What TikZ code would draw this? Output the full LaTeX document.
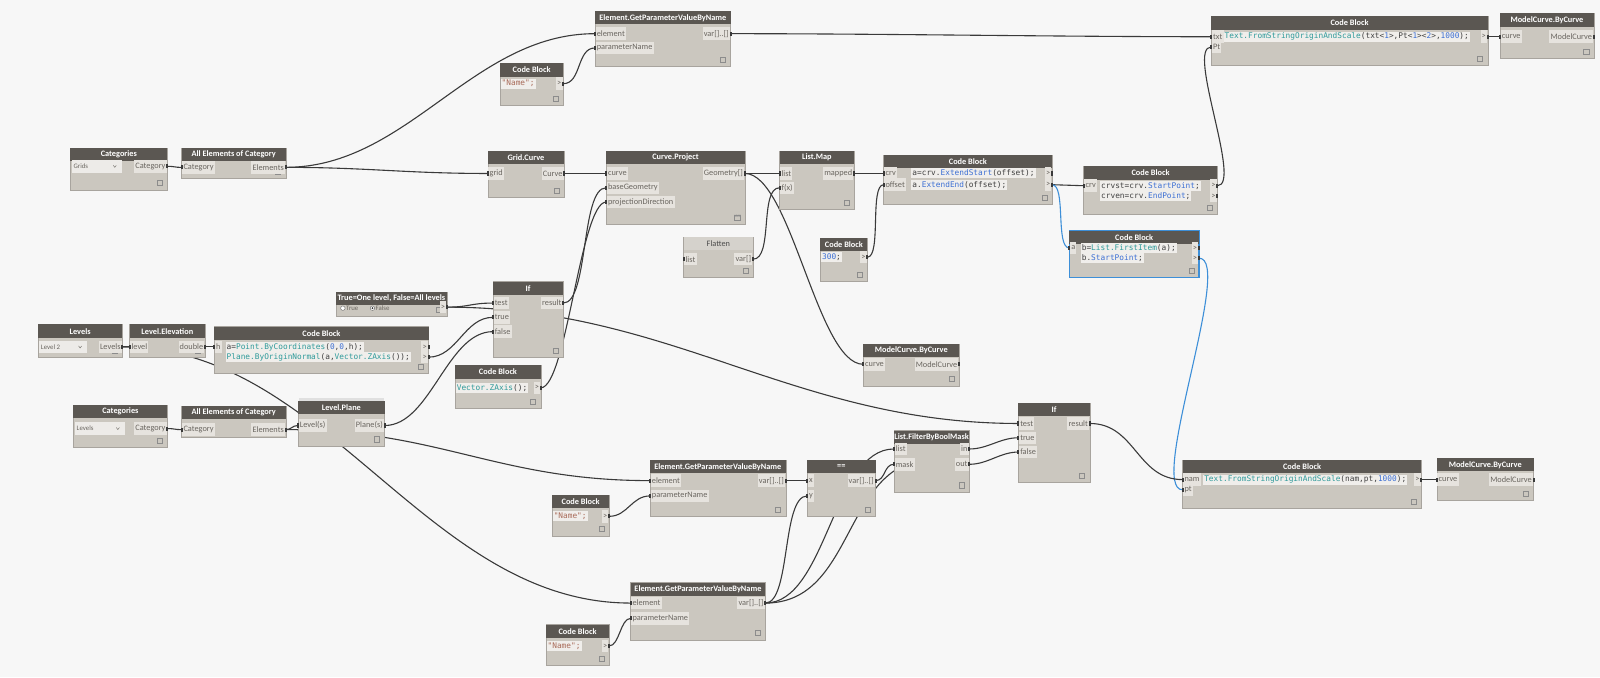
\documentclass[tikz,border=0pt]{standalone}
\usepackage{fontspec}
\setmainfont{Carlito}
\newfontfamily\codefont{DejaVu Sans Mono}
\usetikzlibrary{calc}
\definecolor{bgc}{HTML}{F7F7F7}
\definecolor{bodyc}{HTML}{CBC7BF}
\definecolor{headc}{HTML}{5B5752}
\definecolor{labc}{HTML}{E6E3DE}
\definecolor{bordc}{HTML}{A8A49E}
\definecolor{wirec}{HTML}{3A3A3A}
\definecolor{bluec}{HTML}{3D8FD8}
\definecolor{ctl}{HTML}{2E9A9A}
\definecolor{cbl}{HTML}{3C6FD4}
\definecolor{cstr}{HTML}{A86A58}
\definecolor{txtc}{HTML}{6A6660}
\newcommand\cT[1]{\textcolor{ctl}{#1}}
\newcommand\cB[1]{\textcolor{cbl}{#1}}
\newcommand\cS[1]{\textcolor{cstr}{#1}}
\pgfdeclarelayer{bottom}
\pgfdeclarelayer{background}
\pgfsetlayers{bottom,background,main}
\tikzset{
 ttl/.style={text=white,font=\fontsize{8.3}{9}\selectfont\bfseries,inner sep=0pt},
 plab/.style={fill=labc,text=txtc,font=\fontsize{8.3}{9}\selectfont,inner sep=1.2pt,minimum height=12.5pt},
 code/.style={fill=labc!60!white,text=black!75,font=\codefont\fontsize{7.8}{9}\selectfont,inner sep=1pt,minimum height=10pt},
 wirest/.style={draw=wirec,line width=1.1pt},
 bwirest/.style={draw=bluec,line width=1.1pt},
}
\newcommand\dnode[7][]{%
 \fill[bodyc,draw=bordc,#1] (#3,#4) rectangle (#5,#6);
 \fill[headc] (#3,#4) rectangle (#5,#4+13);
 \node[ttl] (#2) at ({(#3+#5)/2},#4+6.5) {#7};
 \draw[black!45,line width=0.5pt] (#5-10,#6-9) rectangle (#5-5,#6-4);}
\newcommand\pin[4]{\coordinate (#1) at (#2,#3);
 \node[plab,anchor=west] (#1l) at (#2+0.5,#3) {#4};
 \fill[wirec] (#2-1,#3-2) rectangle (#2+1,#3+2);}
\newcommand\pout[4]{\coordinate (#1) at (#2,#3);
 \node[plab,anchor=east] (#1l) at (#2-0.5,#3) {#4};
 \fill[wirec] (#2-1,#3-2) rectangle (#2+1,#3+2);}
\newcommand\wire[3][35]{\begin{pgfonlayer}{background}\draw[wirest] (#2) .. controls ($(#2)+(#1,0)$) and ($(#3)+(-#1,0)$) .. (#3);\end{pgfonlayer}}
\newcommand\bwire[3][35]{\begin{pgfonlayer}{background}\draw[bwirest] (#2) .. controls ($(#2)+(#1,0)$) and ($(#3)+(-#1,0)$) .. (#3);\end{pgfonlayer}}
\newcommand\drop[4]{\node[plab,anchor=west,minimum width=#3pt,fill=labc!70!white] (#4) at (#1,#2) {};
 \draw[txtc,line width=0.4pt] (#1+#3-9,#2-1) -- (#1+#3-7.5,#2+1) -- (#1+#3-6,#2-1);}
\begin{document}
\begin{tikzpicture}[x=1.0204pt,y=-1.0204pt]
\useasboundingbox (0,0) rectangle (1568,663.5);
\begin{pgfonlayer}{bottom}
\fill[bgc] (0,0) rectangle (1568,663.5);
\end{pgfonlayer}

\dnode{cat1}{69}{145}{164}{186}{Categories}
\drop{70}{163}{50}{cat1d}
\node[anchor=west,text=txtc,font=\fontsize{6.8}{7}\selectfont,inner sep=1pt] (cat1dt) at (71,163) {Grids};
\pout{cat1o}{164}{163}{Category}

\dnode{ae1}{178}{145}{280}{175}{All Elements of Category}
\pin{ae1i}{178}{164}{Category}
\pout{ae1o}{280}{164}{Elements}

\dnode{e1}{583}{11}{716}{65}{Element.GetParameterValueByName}
\pin{e1i1}{583}{33}{element}
\pin{e1i2}{583}{47}{parameterName}
\pout{e1o}{716}{33}{var[]..[]}

\dnode{cbn1}{490}{62}{552}{103}{Code Block}
\node[code,anchor=west] (cbn1c) at (490.5,82) {\cS{"Name";}};
\pout{cbn1o}{552}{82}{>}

\dnode{cbt1}{1187}{16}{1458}{64}{Code Block}
\pin{cbt1i1}{1187}{36}{txt}
\pin{cbt1i2}{1187}{46}{Pt}
\node[code,anchor=west] (cbt1c) at (1199,36) {\cT{Text.FromStringOriginAndScale}(txt<\cB{1}>,Pt<\cB{1}><\cB{2}>,\cB{1000});};
\pout{cbt1o}{1458}{36}{>}

\dnode{mc1}{1470}{13}{1562}{57}{ModelCurve.ByCurve}
\pin{mc1i}{1470}{36}{curve}
\pout{mc1o}{1562}{36}{ModelCurve}

\dnode{gc}{478}{148}{553}{193}{Grid.Curve}
\pin{gci}{478}{170}{grid}
\pout{gco}{553}{170}{Curve}

\dnode{cp}{594}{148}{730}{220}{Curve.Project}
\pin{cpi1}{594}{170}{curve}
\pin{cpi2}{594}{184}{baseGeometry}
\pin{cpi3}{594}{198}{projectionDirection}
\pout{cpo}{730}{170}{Geometry[]}
\node[text=black!45,font=\fontsize{5}{6}\selectfont,inner sep=0pt] (cpx) at (723,212) {xxx};

\dnode{lm}{764}{148}{837}{205}{List.Map}
\pin{lmi1}{764}{170}{list}
\pin{lmi2}{764}{184}{f(x)}
\pout{lmo}{837}{170}{mapped}

\dnode{cbe}{866}{152}{1031}{200}{Code Block}
\pin{cbei1}{866}{170}{crv}
\pin{cbei2}{866}{181}{offset}
\node[code,anchor=west] (cbec1) at (893,170) {a=crv.\cB{ExtendStart}(offset);};
\node[code,anchor=west] (cbec2) at (893,181) {a.\cB{ExtendEnd}(offset);};
\pout{cbeo1}{1031}{170}{>}
\pout{cbeo2}{1031}{181}{>}

\dnode{cbc}{1062}{163}{1193}{210}{Code Block}
\pin{cbci}{1062}{182}{crv}
\node[code,anchor=west] (cbcc1) at (1078,182) {crvst=crv.\cB{StartPoint};};
\node[code,anchor=west] (cbcc2) at (1078,192) {crven=crv.\cB{EndPoint};};
\pout{cbco1}{1193}{182}{>}
\pout{cbco2}{1193}{192}{>}

\dnode[draw=bluec,line width=1.2pt]{cbf}{1048}{226}{1175}{272}{Code Block}
\pin{cbfi}{1048}{243}{a}
\node[code,anchor=west] (cbfc1) at (1059,243) {b=\cT{List.FirstItem}(a);};
\node[code,anchor=west] (cbfc2) at (1059,253) {b.\cB{StartPoint};};
\pout{cbfo1}{1175}{243}{>}
\pout{cbfo2}{1175}{253}{>}

\dnode{fl}{670}{232}{738}{272}{}
\fill[bodyc!80!white] (670,232) rectangle (738,245);
\node[ttl,text=black!70,font=\fontsize{8.3}{9}\selectfont] (flt) at (704,238.5) {Flatten};
\pin{fli}{670}{254}{list}
\pout{flo}{738}{254}{var[]}

\dnode{c300}{804}{233}{850}{276}{Code Block}
\node[code,anchor=west] (c300c) at (804.5,252) {\cB{300};};
\pout{c300o}{850}{252}{>}

\dnode{mc2}{846}{337}{940}{378}{ModelCurve.ByCurve}
\pin{mc2i}{846}{357}{curve}
\pout{mc2o}{940}{357}{ModelCurve}

\dnode{tg}{329}{286}{438}{310}{True=One level, False=All levels}
\draw[black!60,fill=white,line width=0.4pt] (336,302) circle (2.2);
\node[anchor=west,text=txtc,font=\fontsize{6.8}{7}\selectfont,inner sep=0pt] (tgt) at (339,302) {True};
\draw[black!60,fill=white,line width=0.4pt] (365,302) circle (2.2);
\fill[black!80] (365,302) circle (1);
\node[anchor=west,text=txtc,font=\fontsize{6.8}{7}\selectfont,inner sep=0pt] (tgf) at (368,302) {False};
\pout{tgo}{438}{301}{>}

\dnode{if1}{483}{276}{552}{350}{If}
\pin{if1i1}{483}{297}{test}
\pin{if1i2}{483}{311}{true}
\pin{if1i3}{483}{325}{false}
\pout{if1o}{552}{297}{result}

\dnode{lv}{37}{318}{120}{350}{Levels}
\drop{38}{340}{48}{lvd}
\node[anchor=west,text=txtc,font=\fontsize{6.8}{7}\selectfont,inner sep=1pt] (lvdt) at (39,340) {Level 2};
\pout{lvo}{120}{340}{Levels}

\dnode{le}{127}{318}{201}{350}{Level.Elevation}
\pin{lei}{127}{340}{level}
\pout{leo}{201}{340}{double}

\dnode{cbp}{210}{320}{420}{366}{Code Block}
\pin{cbpi}{210}{340}{h}
\node[code,anchor=west] (cbpc1) at (221,340) {a=\cT{Point.ByCoordinates}(\cB{0},\cB{0},h);};
\node[code,anchor=west] (cbpc2) at (221,350) {\cT{Plane.ByOriginNormal}(a,\cT{Vector.ZAxis}());};
\pout{cbpo1}{420}{340}{>}
\pout{cbpo2}{420}{350}{>}

\dnode{cbz}{446}{358}{530}{400}{Code Block}
\node[code,anchor=west] (cbzc) at (446.5,380) {\cT{Vector.ZAxis}();};
\pout{cbzo}{530}{380}{>}

\dnode{cat2}{72}{397}{164}{438}{Categories}
\drop{73}{420}{50}{cat2d}
\node[anchor=west,text=txtc,font=\fontsize{6.8}{7}\selectfont,inner sep=1pt] (cat2dt) at (74,420) {Levels};
\pout{cat2o}{164}{420}{Category}

\dnode{ae2}{178}{398}{280}{428}{All Elements of Category}
\pin{ae2i}{178}{421}{Category}
\pout{ae2o}{280}{421}{Elements}

\fill[black!12] (293,390) rectangle (376,393);
\dnode{lp}{292}{393}{377}{437}{Level.Plane}
\pin{lpi}{292}{417}{Level(s)}
\pout{lpo}{377}{417}{Plane(s)}

\dnode{e2}{637}{451}{770}{506}{Element.GetParameterValueByName}
\pin{e2i1}{637}{471}{element}
\pin{e2i2}{637}{486}{parameterName}
\pout{e2o}{770}{471}{var[]..[]}

\dnode{cbn2}{541}{485}{597}{525}{Code Block}
\node[code,anchor=west] (cbn2c) at (541.5,506) {\cS{"Name";}};
\pout{cbn2o}{597}{506}{>}

\dnode{eq}{791}{451}{858}{506}{==}
\pin{eqi1}{791}{471}{x}
\pin{eqi2}{791}{486}{y}
\pout{eqo}{858}{471}{var[]..[]}

\dnode{fbm}{876}{422}{950}{482}{List.FilterByBoolMask}
\pin{fbmi1}{876}{440}{list}
\pin{fbmi2}{876}{455}{mask}
\pout{fbmo1}{950}{440}{in}
\pout{fbmo2}{950}{455}{out}
\coordinate (fbmhid) at (915,450);

\dnode{if2}{998}{395}{1068}{473}{If}
\pin{if2i1}{998}{415}{test}
\pin{if2i2}{998}{429}{true}
\pin{if2i3}{998}{443}{false}
\pout{if2o}{1068}{415}{result}

\dnode{cbt2}{1159}{451}{1393}{498}{Code Block}
\pin{cbt2i1}{1159}{470}{nam}
\pin{cbt2i2}{1159}{480}{pt}
\node[code,anchor=west] (cbt2c) at (1179,470) {\cT{Text.FromStringOriginAndScale}(nam,pt,\cB{1000});};
\pout{cbt2o}{1393}{470}{>}

\dnode{mc3}{1408}{449}{1503}{490}{ModelCurve.ByCurve}
\pin{mc3i}{1408}{470}{curve}
\pout{mc3o}{1503}{470}{ModelCurve}

\dnode{e3}{618}{571}{750}{627}{Element.GetParameterValueByName}
\pin{e3i1}{618}{591}{element}
\pin{e3i2}{618}{606}{parameterName}
\pout{e3o}{750}{591}{var[]..[]}

\dnode{cbn3}{535}{612}{597}{652}{Code Block}
\node[code,anchor=west] (cbn3c) at (535.5,633) {\cS{"Name";}};
\pout{cbn3o}{597}{633}{>}

\wire[8]{cat1o}{ae1i}
\wire[80]{ae1o}{gci}
\wire[120]{ae1o}{e1i1}
\wire[18]{cbn1o}{e1i2}
\wire[150]{e1o}{cbt1i1}
\wire[8]{cbt1o}{mc1i}
\wire[20]{gco}{cpi1}
\wire[25]{if1o}{cpi2}
\wire[25]{cbzo}{cpi3}
\wire[14]{cpo}{lmi1}
\wire[45]{cpo}{mc2i}
\wire[20]{flo}{lmi2}
\wire[14]{lmo}{cbei1}
\wire[14]{c300o}{cbei2}
\wire[15]{cbeo2}{cbci}
\bwire[14]{cbeo2}{cbfi}
\wire[25]{cbco1}{cbt1i2}
\bwire[35]{cbfo2}{cbt2i2}
\wire[4]{lvo}{lei}
\wire[5]{leo}{cbpi}
\wire[28]{cbpo2}{if1i2}
\wire[45]{lpo}{if1i3}
\wire[22]{tgo}{if1i1}
\wire[220]{tgo}{if2i1}
\wire[8]{cat2o}{ae2i}
\wire[6]{ae2o}{lpi}
\wire[150]{ae2o}{e2i1}
\wire[200]{lvo}{e3i1}
\wire[18]{cbn2o}{e2i2}
\wire[10]{cbn3o}{e3i2}
\wire[10]{e2o}{eqi1}
\wire[25]{e3o}{eqi2}
\wire[60]{e3o}{fbmi1}
\wire[90]{e3o}{fbmhid}
\wire[10]{eqo}{fbmi2}
\wire[18]{fbmo1}{if2i2}
\wire[18]{fbmo2}{if2i3}
\wire[45]{if2o}{cbt2i1}
\wire[8]{cbt2o}{mc3i}
\end{tikzpicture}
\end{document}
